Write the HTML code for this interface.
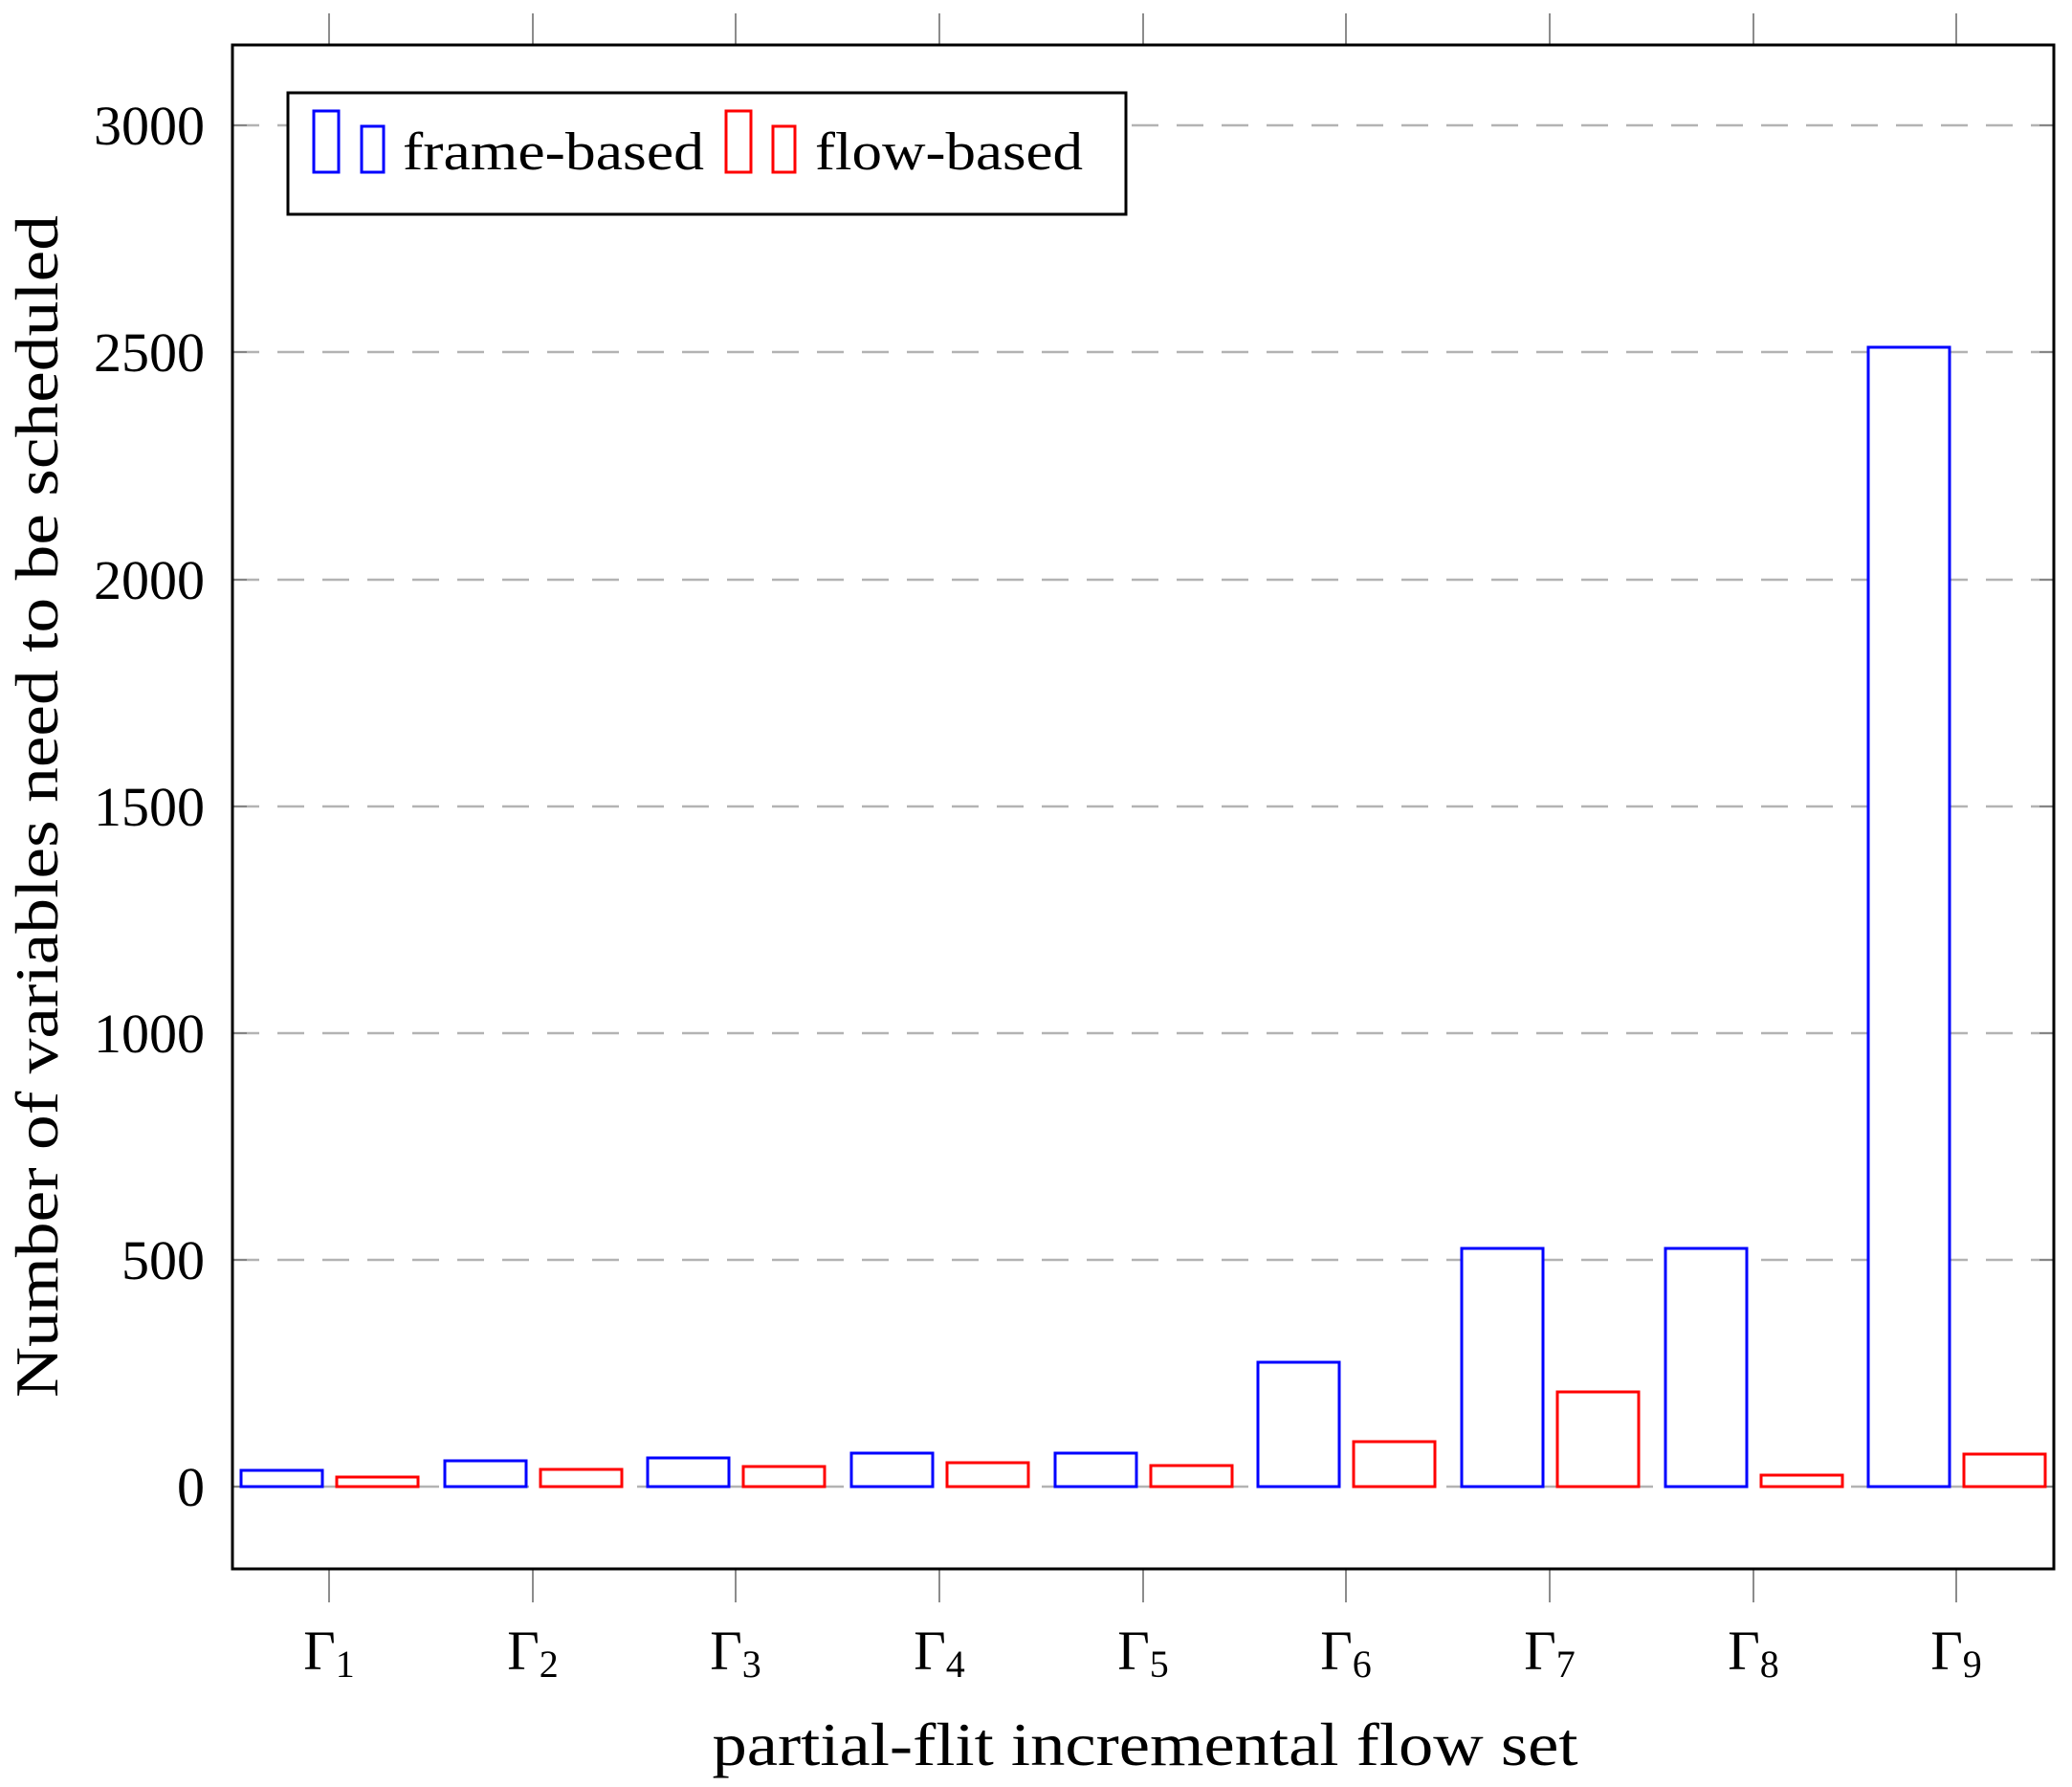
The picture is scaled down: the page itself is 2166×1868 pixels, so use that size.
<!DOCTYPE html>
<html><head><meta charset="utf-8"><style>
html,body{margin:0;padding:0;background:#fff;}
svg{display:block;}
text{font-family:"Liberation Serif",serif;fill:#000;}
</style></head><body>
<svg width="2166" height="1868" viewBox="0 0 2166 1868" xmlns="http://www.w3.org/2000/svg">
<g stroke="#b3b3b3" stroke-width="2.5" stroke-dasharray="28 19">
<line x1="243" y1="131" x2="2147" y2="131"/>
<line x1="243" y1="368" x2="2147" y2="368"/>
<line x1="243" y1="606" x2="2147" y2="606"/>
<line x1="243" y1="843" x2="2147" y2="843"/>
<line x1="243" y1="1080" x2="2147" y2="1080"/>
<line x1="243" y1="1317" x2="2147" y2="1317"/>
<line x1="243" y1="1554" x2="2147" y2="1554"/>
</g>
<g stroke="#808080" stroke-width="1.8">
<line x1="344" y1="14" x2="344" y2="46"/><line x1="557" y1="14" x2="557" y2="46"/><line x1="769" y1="14" x2="769" y2="46"/><line x1="982" y1="14" x2="982" y2="46"/><line x1="1195" y1="14" x2="1195" y2="46"/><line x1="1407" y1="14" x2="1407" y2="46"/><line x1="1620" y1="14" x2="1620" y2="46"/><line x1="1833" y1="14" x2="1833" y2="46"/><line x1="2045" y1="14" x2="2045" y2="46"/>
<line x1="344" y1="1640" x2="344" y2="1675"/><line x1="557" y1="1640" x2="557" y2="1675"/><line x1="769" y1="1640" x2="769" y2="1675"/><line x1="982" y1="1640" x2="982" y2="1675"/><line x1="1195" y1="1640" x2="1195" y2="1675"/><line x1="1407" y1="1640" x2="1407" y2="1675"/><line x1="1620" y1="1640" x2="1620" y2="1675"/><line x1="1833" y1="1640" x2="1833" y2="1675"/><line x1="2045" y1="1640" x2="2045" y2="1675"/>
<line x1="243" y1="131" x2="258" y2="131"/><line x1="243" y1="368" x2="258" y2="368"/><line x1="243" y1="606" x2="258" y2="606"/><line x1="243" y1="843" x2="258" y2="843"/><line x1="243" y1="1080" x2="258" y2="1080"/><line x1="243" y1="1317" x2="258" y2="1317"/><line x1="243" y1="1554" x2="258" y2="1554"/>
<line x1="2132" y1="131" x2="2147" y2="131"/><line x1="2132" y1="368" x2="2147" y2="368"/><line x1="2132" y1="606" x2="2147" y2="606"/><line x1="2132" y1="843" x2="2147" y2="843"/><line x1="2132" y1="1080" x2="2147" y2="1080"/><line x1="2132" y1="1317" x2="2147" y2="1317"/><line x1="2132" y1="1554" x2="2147" y2="1554"/>
</g>
<g fill="#fff" stroke-width="3">
<g stroke="#0000ff">
<rect x="252" y="1537" width="85" height="17"/>
<rect x="465" y="1527" width="85" height="27"/>
<rect x="677" y="1524" width="85" height="30"/>
<rect x="890" y="1519" width="85" height="35"/>
<rect x="1103" y="1519" width="85" height="35"/>
<rect x="1315" y="1424" width="85" height="130"/>
<rect x="1528" y="1305" width="85" height="249"/>
<rect x="1741" y="1305" width="85" height="249"/>
<rect x="1953" y="363" width="85" height="1191"/>
</g>
<g stroke="#ff0000">
<rect x="352" y="1544" width="85" height="10"/>
<rect x="565" y="1536" width="85" height="18"/>
<rect x="777" y="1533" width="85" height="21"/>
<rect x="990" y="1529" width="85" height="25"/>
<rect x="1203" y="1532" width="85" height="22"/>
<rect x="1415" y="1507" width="85" height="47"/>
<rect x="1628" y="1455" width="85" height="99"/>
<rect x="1841" y="1542" width="85" height="12"/>
<rect x="2053" y="1520" width="85" height="34"/>
</g>
</g>
<rect x="243" y="47" width="1904" height="1593" fill="none" stroke="#000" stroke-width="3"/>
<rect x="301" y="97" width="876" height="127" fill="#fff" stroke="#000" stroke-width="3"/>
<g fill="none" stroke-width="3">
<rect x="328" y="116" width="26" height="64" stroke="#0000ff"/>
<rect x="378" y="132" width="23" height="48" stroke="#0000ff"/>
<rect x="759" y="116" width="26" height="64" stroke="#ff0000"/>
<rect x="808" y="132" width="23" height="48" stroke="#ff0000"/>
</g>
<text x="421" y="177" font-size="56" textLength="315" lengthAdjust="spacingAndGlyphs">frame-based</text>
<text x="852" y="177" font-size="56" textLength="280" lengthAdjust="spacingAndGlyphs">flow-based</text>
<g font-size="58" text-anchor="end">
<text x="214" y="151">3000</text>
<text x="214" y="388">2500</text>
<text x="214" y="626">2000</text>
<text x="214" y="863">1500</text>
<text x="214" y="1100">1000</text>
<text x="214" y="1337">500</text>
<text x="214" y="1574">0</text>
</g>
<g font-size="58" text-anchor="middle">
<text x="344" y="1745">Γ<tspan font-size="40" dy="8">1</tspan></text>
<text x="557" y="1745">Γ<tspan font-size="40" dy="8">2</tspan></text>
<text x="769" y="1745">Γ<tspan font-size="40" dy="8">3</tspan></text>
<text x="982" y="1745">Γ<tspan font-size="40" dy="8">4</tspan></text>
<text x="1195" y="1745">Γ<tspan font-size="40" dy="8">5</tspan></text>
<text x="1407" y="1745">Γ<tspan font-size="40" dy="8">6</tspan></text>
<text x="1620" y="1745">Γ<tspan font-size="40" dy="8">7</tspan></text>
<text x="1833" y="1745">Γ<tspan font-size="40" dy="8">8</tspan></text>
<text x="2045" y="1745">Γ<tspan font-size="40" dy="8">9</tspan></text>
</g>
<text x="1197" y="1845" font-size="64" text-anchor="middle" textLength="905" lengthAdjust="spacingAndGlyphs">partial-flit incremental flow set</text>
<text transform="translate(60,843) rotate(-90)" font-size="64" text-anchor="middle" textLength="1236" lengthAdjust="spacingAndGlyphs">Number of variables need to be scheduled</text>
</svg>
</body></html>
